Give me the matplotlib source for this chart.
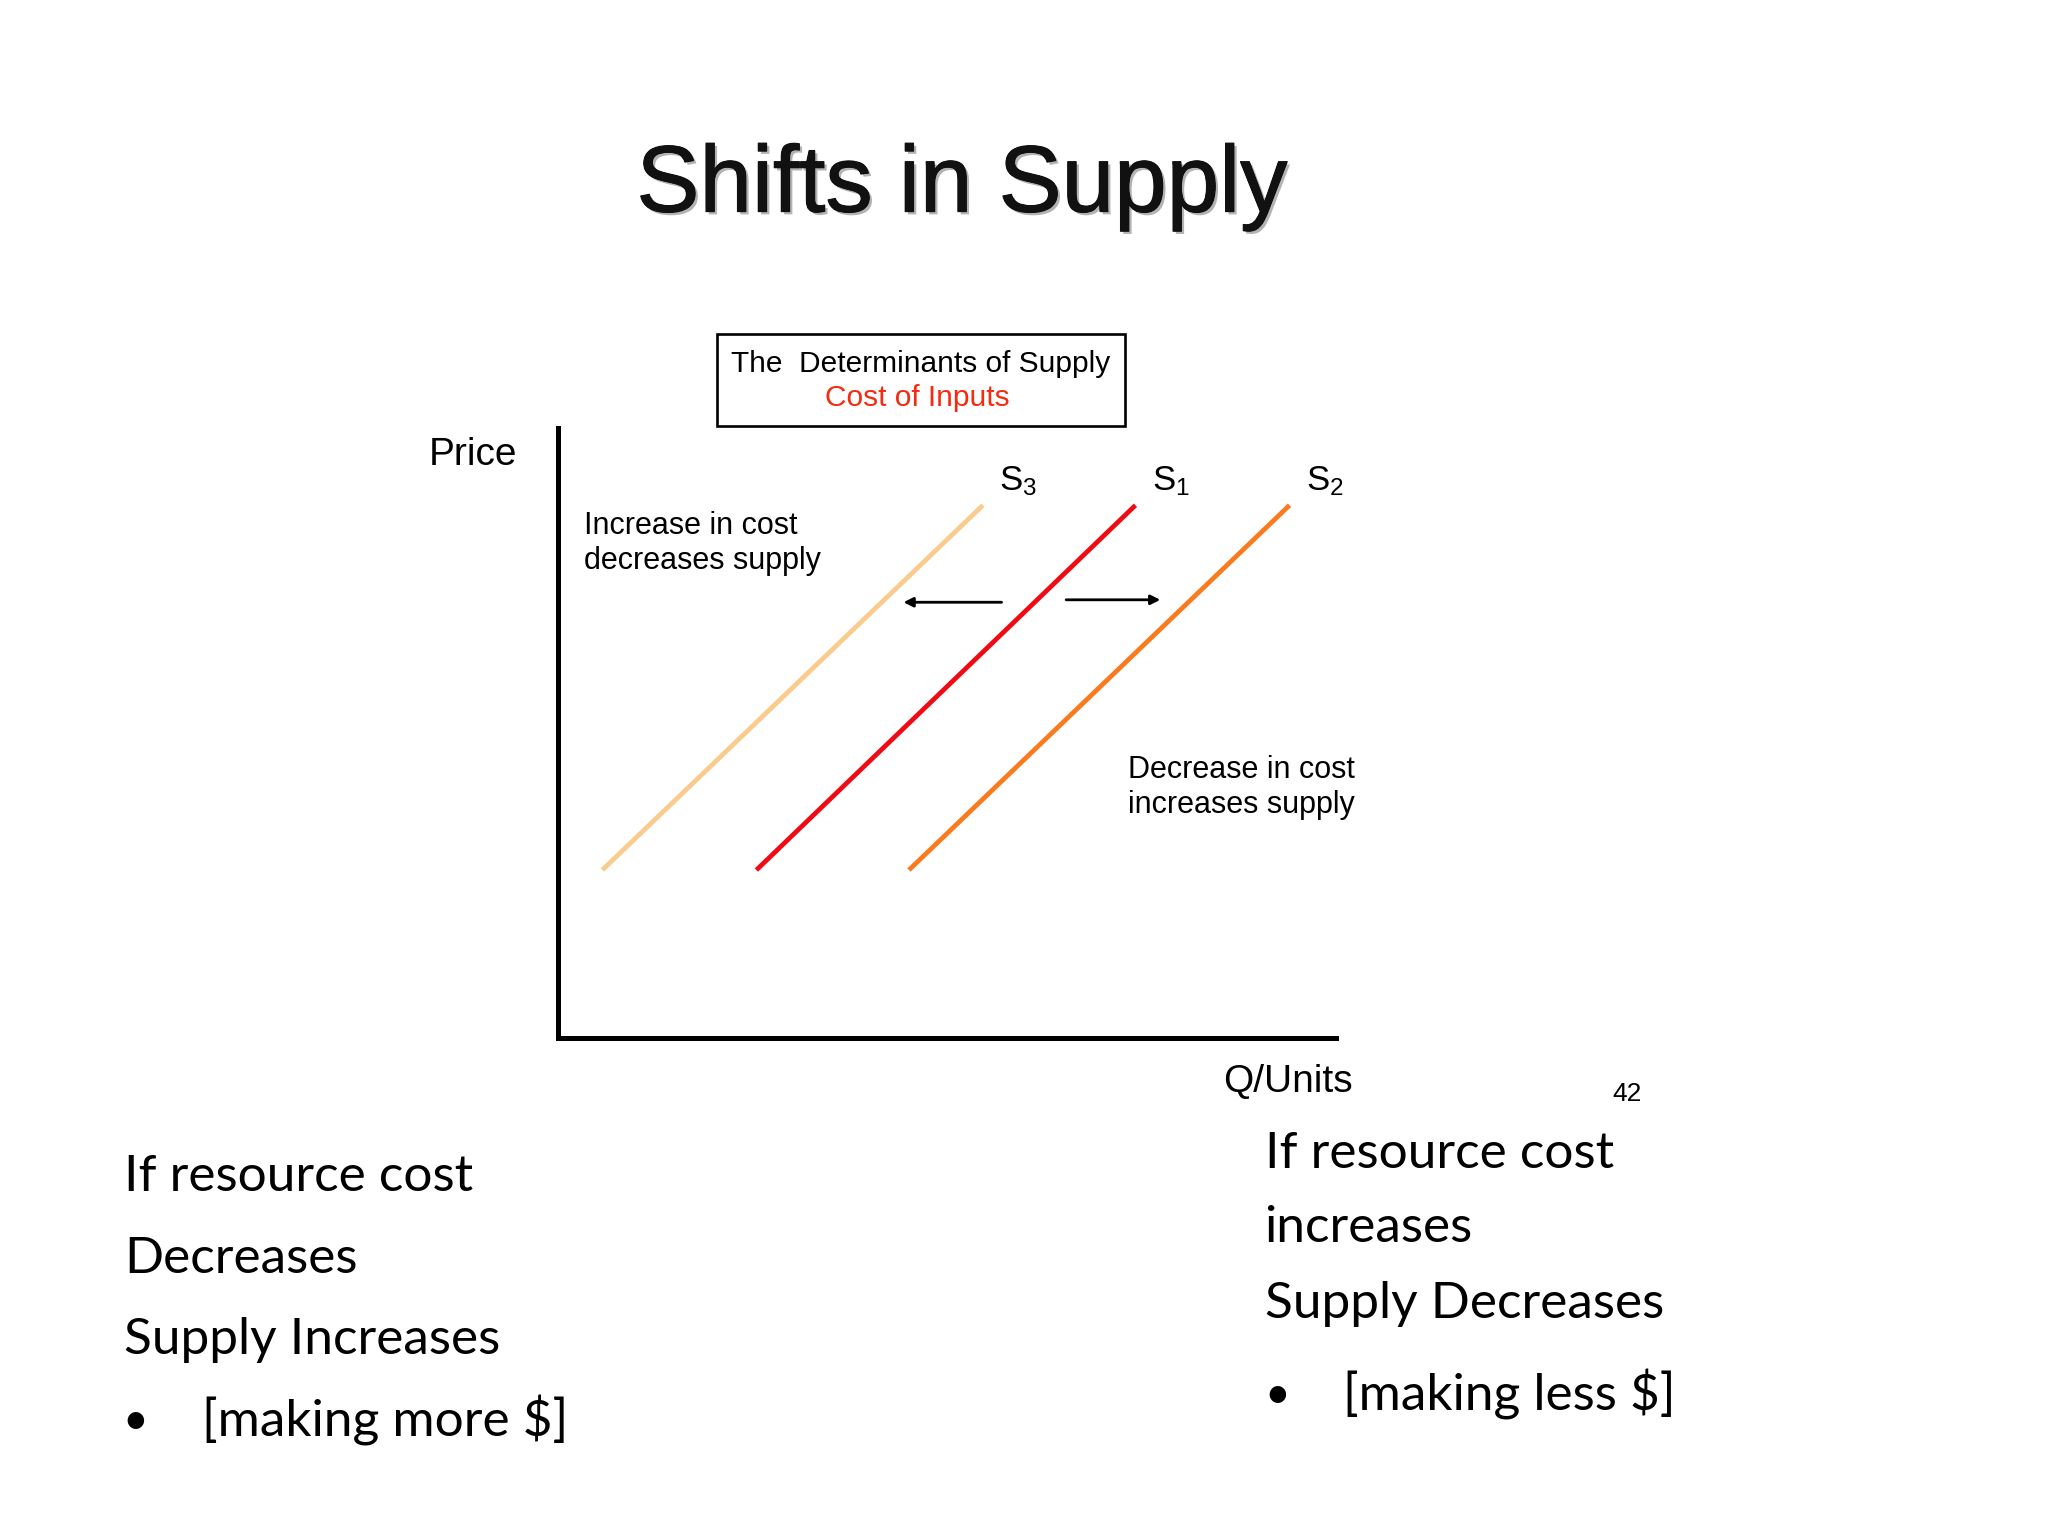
import matplotlib
matplotlib.use("Agg")
import matplotlib.pyplot as plt
import matplotlib.patheffects as pe
from matplotlib.patches import Rectangle

# supply curves: quantity at the low / high price
price_ends = [2.76, 8.74]
s3_qty = [0.57, 5.46]
s1_qty = [2.55, 7.42]
s2_qty = [4.51, 9.40]
curve_labels = ["$\\mathregular{S_3}$", "$\\mathregular{S_1}$", "$\\mathregular{S_2}$"]
curve_colors = ["#FACB8C", "#F00A14", "#FA7A1E"]

left_lines = ["If resource cost", "Decreases", "Supply Increases"]
left_bullet = "[making more $]"
right_lines = ["If resource cost", "increases", "Supply Decreases"]
right_bullet = "[making less $]"

W, H = 1571.0, 1176.0  # layout measured on a scaled view of the slide


def fx(x):
    return x / W


def fy(y):
    return 1 - y / H


plt.rcParams['font.family'] = ['Liberation Sans', 'DejaVu Sans']

fig = plt.figure(figsize=(20.48, 15.36), dpi=100)
fig.patch.set_facecolor("white")

fig.text(fx(738), fy(162), "Shifts in Supply", fontsize=68, ha="center",
         va="baseline", color="#111111",
         path_effects=[pe.withSimplePatchShadow(offset=(2, -2), alpha=0.3),
                       pe.withStroke(linewidth=0.8, foreground="#111111")])

# determinants box
fig.patches.append(Rectangle((fx(550), fy(326)), fx(863) - fx(550), fy(256) - fy(326),
                             transform=fig.transFigure, fill=False, lw=1.9,
                             edgecolor="black"))
fig.text(fx(706), fy(285), "The  Determinants of Supply", fontsize=21.5,
         ha="center", va="baseline")
fig.text(fx(704), fy(311), "Cost of Inputs", fontsize=21.5, ha="center",
         va="baseline", color="#F52A10")

ax = fig.add_axes([fx(428), fy(795), fx(1025) - fx(428), fy(328) - fy(795)])
ax.set_xlim(0, 10)
ax.set_ylim(0, 10)
for side in ["top", "right"]:
    ax.spines[side].set_visible(False)
for side in ["left", "bottom"]:
    ax.spines[side].set_linewidth(3.6)
ax.set_xticks([])
ax.set_yticks([])
ax.patch.set_alpha(0)

for q, c, lab in zip([s3_qty, s1_qty, s2_qty], curve_colors, curve_labels):
    ax.plot(q, price_ends, color=c, lw=3.4, solid_capstyle="butt")
    ax.text(q[1] + 0.45, price_ends[1] + 0.4, lab, fontsize=25, ha="center",
            va="center")

ax.annotate("", xy=(4.44, 7.15), xytext=(5.70, 7.15),
            arrowprops=dict(arrowstyle="-|>", lw=2, color="black",
                            mutation_scale=14, shrinkA=0, shrinkB=0))
ax.annotate("", xy=(7.74, 7.19), xytext=(6.53, 7.19),
            arrowprops=dict(arrowstyle="-|>", lw=2, color="black",
                            mutation_scale=14, shrinkA=0, shrinkB=0))

ax.text(0.34, 8.4, "Increase in cost", fontsize=22, ha="left", va="center")
ax.text(0.34, 7.82, "decreases supply", fontsize=22, ha="left", va="center")
ax.text(7.32, 4.4, "Decrease in cost", fontsize=22, ha="left", va="center")
ax.text(7.32, 3.82, "increases supply", fontsize=22, ha="left", va="center")

fig.text(fx(363), fy(356), "Price", fontsize=28, ha="center", va="baseline")
fig.text(fx(988), fy(836), "Q/Units", fontsize=28, ha="center", va="baseline")
fig.text(fx(1248), fy(843), "42", fontsize=19, ha="center", va="baseline")

# bottom notes
body = dict(fontsize=37, family=["Lato", "DejaVu Sans"], va="baseline",
            ha="left", color="black")
for line, y in zip(left_lines, [912, 975, 1037]):
    fig.text(fx(95), fy(y), line, **body)
fig.text(fx(94), fy(1098), "\u2022", fontsize=32, family=["Lato", "DejaVu Sans"],
         va="baseline", ha="left")
fig.text(fx(155), fy(1100), left_bullet, **body)

for line, y in zip(right_lines, [894, 951, 1009]):
    fig.text(fx(970), fy(y), line, **body)
fig.text(fx(970), fy(1078), "\u2022", fontsize=32, family=["Lato", "DejaVu Sans"],
         va="baseline", ha="left")
fig.text(fx(1030), fy(1080), right_bullet, **body)

fig.savefig("out.png", dpi=100, facecolor="white")
